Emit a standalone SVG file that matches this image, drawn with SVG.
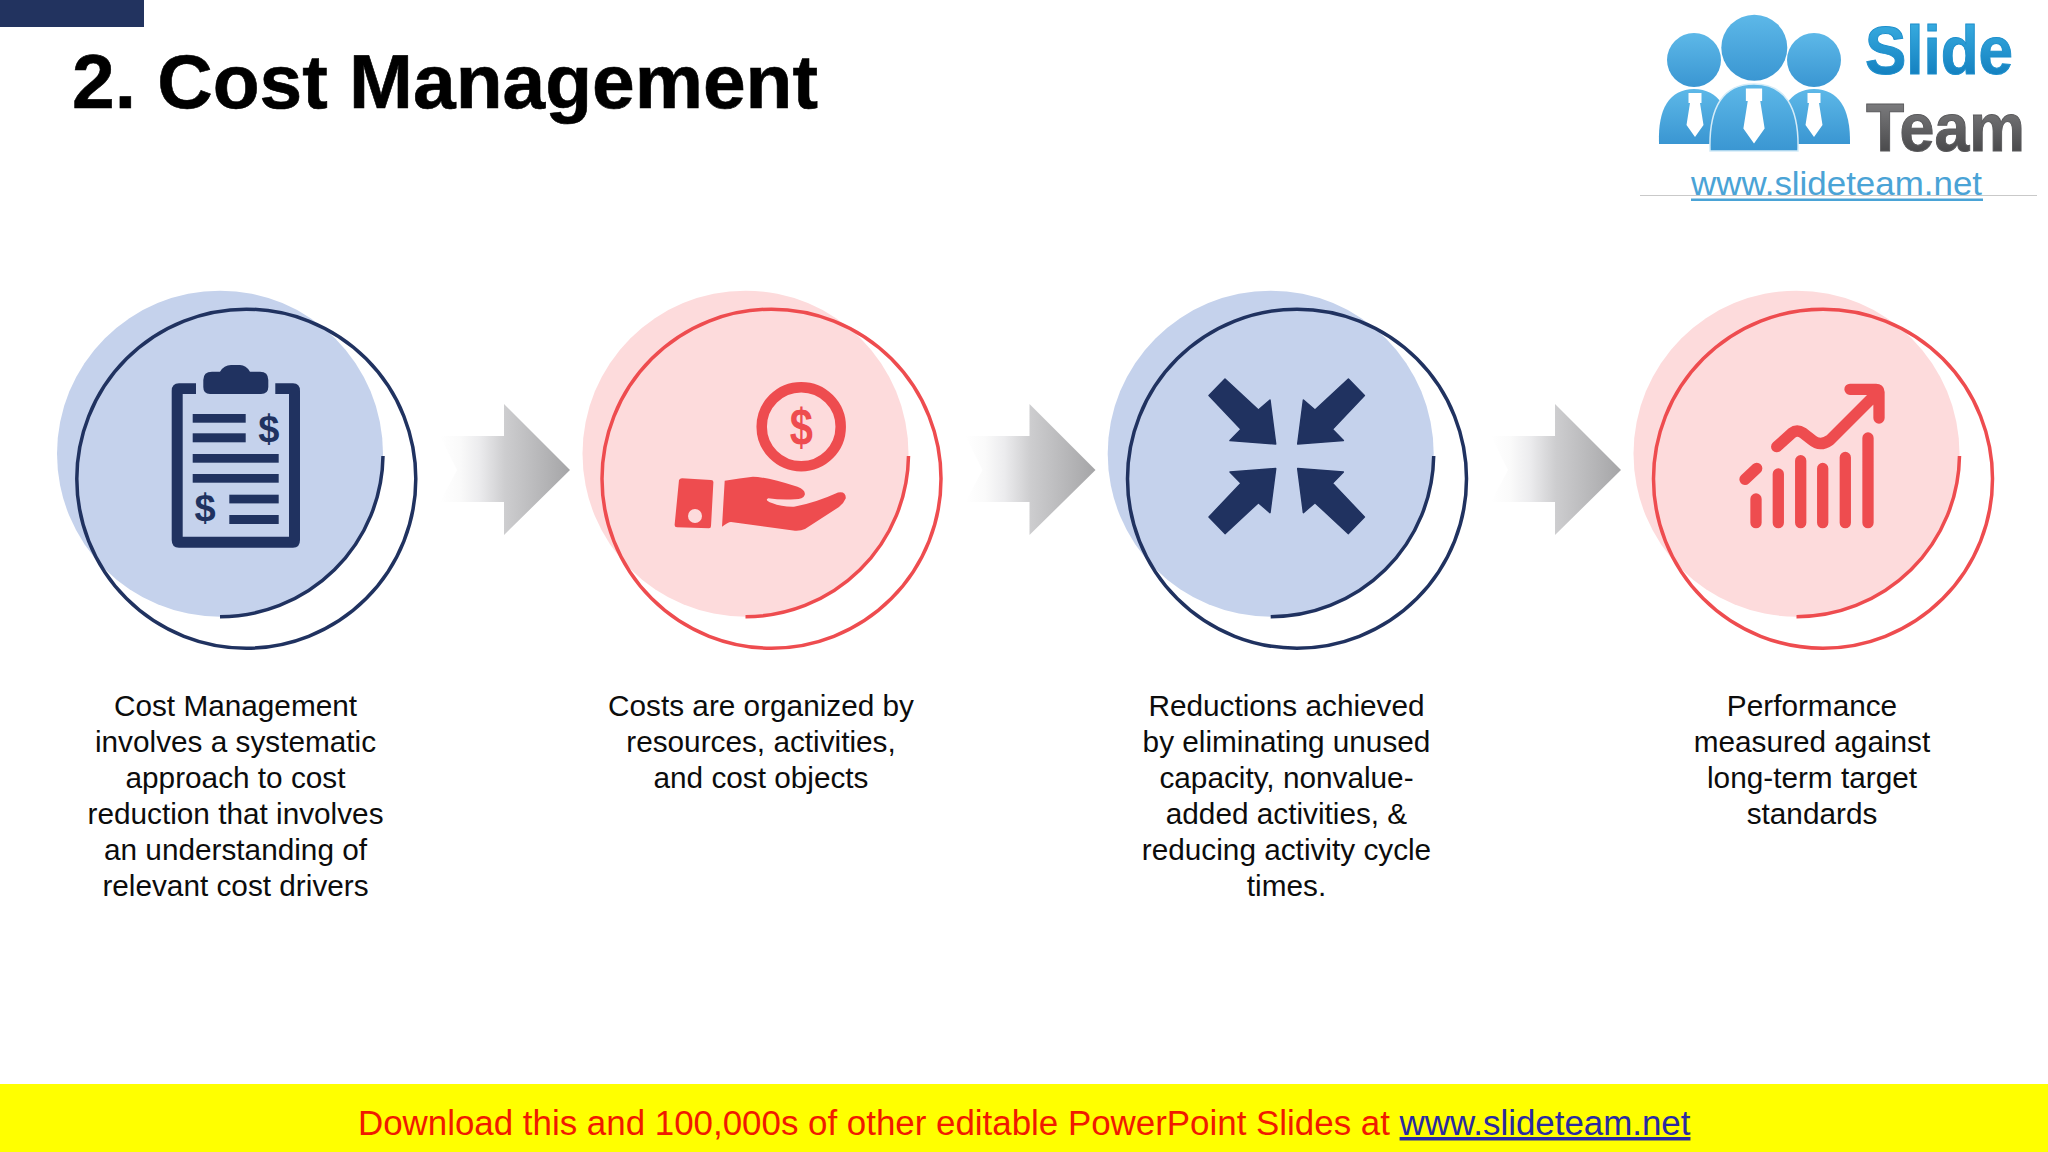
<svg xmlns="http://www.w3.org/2000/svg" width="2048" height="1152" viewBox="0 0 2048 1152">
<style>
text{font-family:"Liberation Sans",Arial,sans-serif}
.d{font-size:29.75px;fill:#0c0c0c;text-anchor:middle}
.bf{fill:#c5d2ec}.bs{stroke:#203260;fill:none;stroke-width:3.5}.bi{fill:#203260}
.rf{fill:#fddbdc}.rs{stroke:#ee4c4f;fill:none;stroke-width:3.5}.ri{fill:#ee4c4f}
.rl{stroke:#ee4c4f;stroke-width:11.3;stroke-linecap:round;fill:none}
.ds{font-weight:bold;font-size:38px;text-anchor:middle}
</style>
<defs>
<linearGradient id="ag" x1="0" x2="1" y1="0" y2="0"><stop offset="0" stop-color="#fff"/><stop offset="0.15" stop-color="#fafafa"/><stop offset="0.3" stop-color="#ececee"/><stop offset="0.5" stop-color="#cdcdcf"/><stop offset="1" stop-color="#a5a5a7"/></linearGradient>
<linearGradient id="sl" x1="0" x2="0" y1="0" y2="1"><stop offset="0" stop-color="#3fb4e6"/><stop offset="1" stop-color="#0b76b8"/></linearGradient>
<linearGradient id="tm" x1="0" x2="0" y1="0" y2="1"><stop offset="0" stop-color="#8a8a8c"/><stop offset="1" stop-color="#3c3c3e"/></linearGradient>
<linearGradient id="hd" x1="0" x2="0" y1="0" y2="1"><stop offset="0" stop-color="#5db8e8"/><stop offset="1" stop-color="#3a96d2"/></linearGradient>
<path id="flow" d="M0 32H64V0L130 66L64 131V98H0L17 66Z" fill="url(#ag)"/>
<path id="cin" d="M-61.7-77.3L-28.3-46.3L-16.7-56.3L-11-12.3L-56.7-15.700L-45.700-27L-77.700-60.700Z" class="bi" stroke="#203260" stroke-width="1.5" stroke-linejoin="round"/>
<path id="tie" d="M-6.500 0H6.500V10H5L8.500 32L0 44L-8.500 32L-5 10H-6.500Z" fill="#fff"/>
</defs>
<rect width="2048" height="1152" fill="#fff"/>
<rect id="top-bar" width="144" height="27" fill="#22335f"/>
<text id="title" x="72" y="108" font-size="76" font-weight="bold" fill="#000" stroke="#000" stroke-width="0.6" textLength="746" lengthAdjust="spacingAndGlyphs">2. Cost Management</text>

<g id="logo">
<g fill="url(#hd)">
<circle cx="1694" cy="60" r="27"/><circle cx="1814" cy="60" r="27"/>
<path d="M1659 144Q1657 90 1694 89Q1731 90 1731 144Z"/>
<path d="M1778 144Q1778 90 1814 89Q1851 90 1850 144Z"/>
<circle cx="1754.300" cy="47.700" r="33"/>
<path d="M1710 151Q1708 84 1754 84Q1800 84 1798 151Z" stroke="#d5ecf8" stroke-width="1.500"/>
</g>
<use href="#tie" x="1695" y="93"/><use href="#tie" x="1814" y="93"/>
<use href="#tie" transform="translate(1754 88.500) scale(1.250)"/>
<text x="1865" y="74" font-size="68" font-weight="bold" fill="url(#sl)" stroke="#1e8fcc" stroke-width="1" textLength="148" lengthAdjust="spacingAndGlyphs">Slide</text>
<text x="1866" y="151" font-size="68" font-weight="bold" fill="url(#tm)" stroke="#5a5a5c" stroke-width="1" textLength="159" lengthAdjust="spacingAndGlyphs">Team</text>
<text x="1691" y="195" font-size="33" fill="#4aa3d6" textLength="291" lengthAdjust="spacingAndGlyphs">www.slideteam.net</text>
<rect x="1691" y="198.500" width="292" height="2.500" fill="#4aa3d6"/>
<rect x="1640" y="195" width="397" height="1" fill="#c9c9c9"/>
</g>

<g id="connectors">
<use href="#flow" x="440" y="404"/>
<use href="#flow" x="965.500" y="404"/>
<use href="#flow" x="1491" y="404"/>
</g>

<g id="node-1">
<circle class="bf" cx="220" cy="453.700" r="163"/>
<circle class="bs" cx="246.300" cy="478.700" r="169.500"/>
<path class="bs" d="M383 456A163 163 0 0 1 220 616.700"/>
<path class="bi" fill-rule="evenodd" d="M196 383.300H179Q171.700 383.300 171.700 391V540Q171.700 547.700 179 547.700H293Q300 547.700 300 540V391Q300 383.300 293 383.300H275.300V394H289V536.700H182.700V394H196Z"/>
<path class="bi" d="M212 371.700H220Q224 365 231 365H240Q246 365 250 371.700H260Q268.300 371.700 268.300 380V387Q268.300 394 261 394H210Q203.300 394 203.300 387V380Q203.300 371.700 212 371.700Z"/>
<rect class="bi" x="192.700" y="414" width="53" height="8.700"/>
<rect class="bi" x="192.700" y="433.300" width="53" height="9"/>
<rect class="bi" x="192.700" y="454" width="86" height="8.700"/>
<rect class="bi" x="192.700" y="474" width="86" height="8.700"/>
<rect class="bi" x="229.300" y="494.700" width="49.400" height="8.700"/>
<rect class="bi" x="229.300" y="515" width="49.400" height="9"/>
<text class="ds bi" x="268.700" y="442">$</text>
<text class="ds bi" x="205" y="521">$</text>
<text class="d"><tspan x="235.500" y="715.500">Cost Management</tspan><tspan x="235.500" y="751.500">involves a systematic</tspan><tspan x="235.500" y="787.500">approach to cost</tspan><tspan x="235.500" y="823.500">reduction that involves</tspan><tspan x="235.500" y="859.500">an understanding of</tspan><tspan x="235.500" y="895.500">relevant cost drivers</tspan></text>
</g>

<g id="node-2">
<circle class="rf" cx="745.500" cy="453.700" r="163"/>
<circle class="rs" cx="771.500" cy="478.700" r="169.500"/>
<path class="rs" d="M908.500 456A163 163 0 0 1 745.500 616.700"/>
<circle cx="801.200" cy="426.700" r="39.500" fill="none" stroke="#ee4c4f" stroke-width="10.500"/>
<text class="ri" font-weight="bold" font-size="52" text-anchor="middle" transform="translate(801.200 444.500) scale(0.8 1)">$</text>
<path class="ri" d="M682 478.300L711 480Q713.400 480 713.400 482L711 526Q711 528.300 709 528.300L677 527.300Q674.600 527.300 674.600 525L679 480Q680 478.300 682 478.300Z"/>
<circle cx="695" cy="516" r="7" fill="#fddbdc"/>
<path class="ri" d="M724.700 480.700Q740 478 752.900 476.700Q765 476.700 797.500 486.700Q806 490 804.700 495Q803 499.300 795 499.300Q780 500 768.300 498.300Q764 500 772 503Q782 507 794 506.700Q815 503 838 492.500Q846 491 845.800 498.300Q844 503 839 507L805 529Q801 531 795 530.700L731 522Q728 522 722 526.700Z"/>
<text class="d"><tspan x="761" y="715.500">Costs are organized by</tspan><tspan x="761" y="751.500">resources, activities,</tspan><tspan x="761" y="787.500">and cost objects</tspan></text>
</g>

<g id="node-3">
<circle class="bf" cx="1270.700" cy="453.700" r="163"/>
<circle class="bs" cx="1297" cy="478.700" r="169.500"/>
<path class="bs" d="M1433.700 456A163 163 0 0 1 1270.700 616.700"/>
<use href="#cin" transform="translate(1286.700 456.300)"/>
<use href="#cin" transform="translate(1286.700 456.300) scale(-1 1)"/>
<use href="#cin" transform="translate(1286.700 456.300) scale(1 -1)"/>
<use href="#cin" transform="translate(1286.700 456.300) scale(-1 -1)"/>
<text class="d"><tspan x="1286.500" y="715.500">Reductions achieved</tspan><tspan x="1286.500" y="751.500">by eliminating unused</tspan><tspan x="1286.500" y="787.500">capacity, nonvalue-</tspan><tspan x="1286.500" y="823.500">added activities, &amp;</tspan><tspan x="1286.500" y="859.500">reducing activity cycle</tspan><tspan x="1286.500" y="895.500">times.</tspan></text>
</g>

<g id="node-4">
<circle class="rf" cx="1796.500" cy="453.700" r="163"/>
<circle class="rs" cx="1823" cy="478.700" r="169.500"/>
<path class="rs" d="M1959.500 456A163 163 0 0 1 1796.500 616.700"/>
<path class="rl" d="M1756 499V522.700M1778.300 474V522.700M1800.700 460.700V522.700M1822.700 468.400V522.700M1845.300 457.400V522.700M1868 438V522.700M1745 479.300L1756.700 468.300"/>
<path class="rl" stroke-linejoin="round" d="M1776.700 446.700L1792 433Q1797 429 1803 433L1812 440Q1820 447 1830 440L1878 392M1850 389.300H1876Q1879 389.300 1879 392V418"/>
<text class="d"><tspan x="1812" y="715.500">Performance</tspan><tspan x="1812" y="751.500">measured against</tspan><tspan x="1812" y="787.500">long-term target</tspan><tspan x="1812" y="823.500">standards</tspan></text>
</g>

<rect id="footer-bar" y="1084" width="2048" height="68" fill="#ffff00"/>
<text id="footer" x="358" y="1135" font-size="34.900" fill="#f01a00">Download this and 100,000s of other editable PowerPoint Slides at <tspan fill="#2a2aa0" text-decoration="underline">www.slideteam.net</tspan></text>
</svg>
